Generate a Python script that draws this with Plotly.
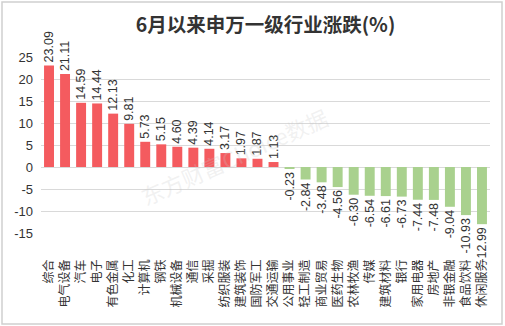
import plotly.graph_objects as go

# Shenwan level-1 industries, % change since June
industries = ["综合", "电气设备", "汽车", "电子", "有色金属", "化工", "计算机", "钢铁",
              "机械设备", "通信", "采掘", "纺织服装", "建筑装饰", "国防军工", "交通运输",
              "公用事业", "轻工制造", "商业贸易", "医药生物", "农林牧渔", "传媒", "建筑材料",
              "银行", "家用电器", "房地产", "非银金融", "食品饮料", "休闲服务"]
changes = [23.09, 21.11, 14.59, 14.44, 12.13, 9.81, 5.73, 5.15,
           4.60, 4.39, 4.14, 3.17, 1.97, 1.87, 1.13,
           -0.23, -2.84, -3.48, -4.56, -6.30, -6.54, -6.61,
           -6.73, -7.44, -7.48, -9.04, -10.93, -12.99]
y_ticks = [25, 20, 15, 10, 5, 0, -5, -10, -15]

RED = "#F45B5F"
GREEN = "#A9D18E"
colors = [RED if v >= 0 else GREEN for v in changes]

FONT = "Liberation Sans, Noto Sans CJK SC, sans-serif"

fig = go.Figure(go.Bar(
    x=industries,
    y=changes,
    marker=dict(color=colors, line=dict(width=0)),
    width=0.62,
    texttemplate="%{y:.2f}",
    textposition="outside",
    textangle=-90,
    constraintext="none",
    cliponaxis=False,
    textfont=dict(family=FONT, size=12.5, color="#333333"),
    hoverinfo="x+y",
))

fig.update_layout(
    width=505, height=326,
    margin=dict(l=41, r=15, t=57, b=93),
    paper_bgcolor="white",
    plot_bgcolor="white",
    showlegend=False,
    title=dict(text="<b>6月以来申万一级行业涨跌(%)</b>",
               x=0.5, xref="paper", xanchor="center",
               y=1 - 25 / 326, yanchor="middle",
               font=dict(family="Noto Sans CJK SC, sans-serif", size=19.5, color="#333333")),
    xaxis=dict(
        type="category",
        tickangle=-90,
        ticklabelstandoff=23,
        tickfont=dict(family="Noto Sans CJK SC, sans-serif", size=12, color="#333333"),
        showgrid=False, showline=False, ticks="",
        range=[-0.5, len(industries) - 0.5],
    ),
    yaxis=dict(
        range=[-15, 25],
        tickvals=y_ticks,
        ticktext=[str(v) for v in y_ticks],
        tickfont=dict(family=FONT, size=13, color="#333333"),
        showgrid=True, gridcolor="#D9D9D9", gridwidth=1,
        zeroline=True, zerolinecolor="#D9D9D9", zerolinewidth=1,
        showline=False, ticks="",
        ticklabelstandoff=7,
    ),
    shapes=[dict(type="rect", xref="paper", yref="paper",
                 x0=-39 / 449, x1=1 + 12 / 449,
                 y0=-91 / 176, y1=1 + 55 / 176,
                 line=dict(color="#D0D0D0", width=1.5), fillcolor="rgba(0,0,0,0)")],
    annotations=[dict(text="东方财富Choice数据", xref="paper", yref="paper",
                      x=0.43, y=0.44, showarrow=False, textangle=-24,
                      font=dict(family="Noto Sans CJK SC, sans-serif", size=22,
                                color="rgba(200,200,200,0.25)"))],
)

fig.write_html("out.html")
